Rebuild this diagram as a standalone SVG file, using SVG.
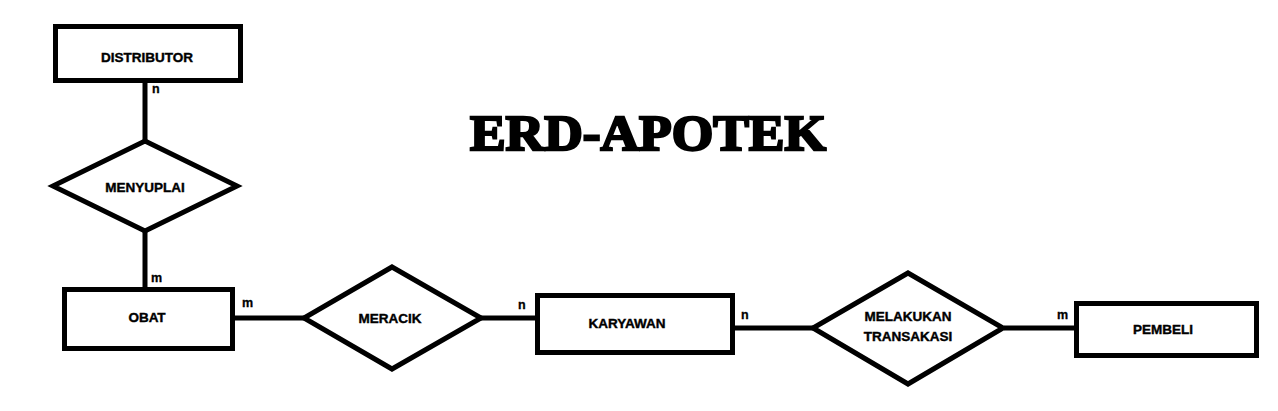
<svg xmlns="http://www.w3.org/2000/svg" width="1278" height="411" viewBox="0 0 1278 411">
<style>
.box{fill:#fff;stroke:#000;stroke-width:5}
.dia{fill:#fff;stroke:#000;stroke-width:5;stroke-linejoin:miter}
.lbl{font-family:"Liberation Sans",Arial,sans-serif;font-weight:bold;font-size:13.5px;fill:#000;stroke:#000;stroke-width:0.4;text-anchor:middle}
.card{font-family:"Liberation Sans",Arial,sans-serif;font-weight:bold;font-size:12.5px;fill:#000;stroke:#000;stroke-width:0.3}
.title{font-family:"Liberation Serif","Times New Roman",serif;font-weight:900;font-size:50px;fill:#000;stroke:#000;stroke-width:2.4;text-anchor:middle}
</style>
<rect width="1278" height="411" fill="#fff"/>
<g id="connectors" stroke="#000" stroke-width="5" fill="none">
<line x1="145" y1="82" x2="145" y2="141"/>
<line x1="145" y1="231" x2="145" y2="288"/>
<line x1="234" y1="318" x2="304" y2="318"/>
<line x1="481" y1="318" x2="537" y2="318"/>
<line x1="734" y1="328" x2="813" y2="328"/>
<line x1="1004" y1="328" x2="1076" y2="328"/>
</g>
<text class="title" x="648" y="150" textLength="356" lengthAdjust="spacingAndGlyphs">ERD-APOTEK</text>
<g id="distributor">
<rect class="box" x="55.5" y="26.5" width="185" height="54"/>
<text class="lbl" x="147" y="62">DISTRIBUTOR</text>
</g>
<g id="menyuplai">
<polygon class="dia" points="145,141 237,186 145,231 53,186"/>
<text class="lbl" x="145" y="192">MENYUPLAI</text>
</g>
<g id="obat">
<rect class="box" x="64.5" y="289.5" width="168" height="59"/>
<text class="lbl" x="147" y="322">OBAT</text>
</g>
<g id="meracik">
<polygon class="dia" points="392,267 481,318 392,369 304,318"/>
<text class="lbl" x="390" y="323">MERACIK</text>
</g>
<g id="karyawan">
<rect class="box" x="537.5" y="295.5" width="195" height="57"/>
<text class="lbl" x="627" y="328">KARYAWAN</text>
</g>
<g id="melakukan-transakasi">
<polygon class="dia" points="908,273 1003,328 908,384 813,328"/>
<text class="lbl" x="908" y="321">MELAKUKAN</text>
<text class="lbl" x="908" y="341">TRANSAKASI</text>
</g>
<g id="pembeli">
<rect class="box" x="1076.5" y="303.5" width="180" height="52"/>
<text class="lbl" x="1163" y="334">PEMBELI</text>
</g>
<g id="cardinalities">
<text class="card" x="152" y="93">n</text>
<text class="card" x="151" y="282">m</text>
<text class="card" x="242" y="307">m</text>
<text class="card" x="518" y="309">n</text>
<text class="card" x="741" y="319">n</text>
<text class="card" x="1057" y="319">m</text>
</g>
</svg>
